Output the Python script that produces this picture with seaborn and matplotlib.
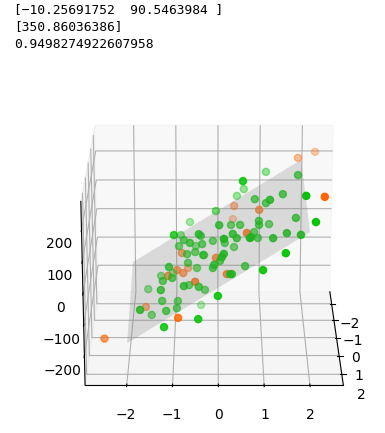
import numpy as np
import matplotlib
matplotlib.use('Agg')
import matplotlib.pyplot as plt
import seaborn as sns

W, H = 385, 433

# inliers
green_x = [-1.5,1.0,-1.5,-1.5,0.2,0.2,1.2,0.4,0.2,2.0,2.0,0.8,-0.5,1.0,0.0,0.4,0.4,0.6,0.0,0.2,1.2,1.4,1.6,0.2,2.0,0.2,1.0,2.0,1.2,0.4,1.4,0.0,2.0,0.8,2.0,1.4,2.0,0.4,1.2,0.8,0.8,0.6,-0.3,1.4,-0.3,0.8,0.8,1.2,-0.8,1.4,0.4,1.2,0.4,2.0,-1.2,2.0,2.0,0.4,0.2,0.8,1.4,0.6,1.4,1.6,0.2,0.2,0.4,-1.6,1.0,-0.8,1.0,0.4,0.4,0.8,0.0,-0.5,0.4,1.6,0.4]
green_y = [1.11,0.54,0.60,0.44,0.82,1.07,1.13,1.44,1.78,1.88,2.10,1.72,-0.05,0.02,0.29,0.49,0.91,0.91,1.15,0.81,0.32,1.50,1.80,-0.12,0.12,0.15,0.41,0.68,0.72,0.89,1.20,0.36,1.46,0.60,0.97,0.30,-1.71,-1.51,-1.16,-0.93,-1.26,-0.91,-1.61,-1.27,-1.31,-1.24,-1.03,-1.09,-1.05,-0.76,-0.66,-0.43,-0.30,-0.01,-0.40,-0.44,-1.19,-0.68,-0.48,-0.12,-0.09,0.04,0.08,0.12,-0.32,-0.52,-0.70,-0.66,-0.98,-0.86,-0.43,-0.39,-0.77,-0.63,-0.89,-0.51,-0.36,0.26,-0.34]
green_z = [187,276,129,106,179,166,226,205,257,278,196,148,105,135,84,105,118,115,87,71,117,130,135,42,143,35,93,146,107,62,114,11,98,-9,44,-2,-84,-194,-134,-148,-124,-136,-147,-54,-102,-58,-48,10,-120,-41,-94,-55,-110,-39,-253,-114,-140,-20,-48,-15,28,-3,53,74,-5,5,9,12,103,9,106,69,55,67,14,-12,42,9,6]

# outliers
orange_x = [-1.5,-2.2,2.0,-1.0,0.2,-1.6,1.2,1.0,0.2,2.0,1.6,0.8,0.4,0.4,-0.4,0.8,1.2,0.2]
orange_y = [1.85,2.28,2.28,0.37,0.92,0.35,0.63,-2.56,-1.65,-0.88,-0.51,-1.12,-0.93,-0.79,-0.69,-0.05,0.19,-0.82]
orange_z = [234,222,275,97,144,22,120,-238,-179,-110,-16,-41,-44,-54,-81,18,-13,2]

# fitted plane corners
plane_x = [[-2.5,-2.5],[2.3,2.3]]
plane_y = [[-2.05,1.97],[-1.99,1.96]]
plane_z = [[-175,181],[-174,180]]

ticks_xy = [-2,-1,0,1,2]
ticks_z = [-200,-100,0,100,200]
printed = ['[\u221210.25691752  90.5463984 ]', '[350.86036386]', '0.9498274922607958']

sns.reset_orig()
green, orange = sns.color_palette(['#00c400', '#ff6600'])

fig = plt.figure(figsize=(W/100, H/100), dpi=100)
S = 385
ax = fig.add_axes([(209-S/2)/W, (433-255-S/2)/H, S/W, S/H], projection='3d')
ax.view_init(elev=20, azim=0)
ax.set_xlim(-2.75, 2.55, view_margin=0)
ax.set_ylim(-2.91, 2.73, view_margin=0)
ax.set_zlim(-295, 288, view_margin=0)
ax.set_xticks(ticks_xy)
ax.set_yticks(ticks_xy)
ax.set_zticks(ticks_z)
ax.computed_zorder = False

ax.scatter(orange_x, orange_y, orange_z, color=orange, s=26, zorder=2)
ax.scatter(green_x, green_y, green_z, color=green, s=26, zorder=3)
# plane goes over the points, that is what dulls the ones behind it
ax.plot_surface(np.array(plane_x), np.array(plane_y), np.array(plane_z), color='gray', alpha=0.25, shade=False, zorder=4)

for yy, t in zip([10, 27, 45], printed):
    fig.text(14/W, 1-yy/H, t, family='DejaVu Sans Mono', fontsize=9.28, va='center')

fig.savefig('out.png', dpi=100)
